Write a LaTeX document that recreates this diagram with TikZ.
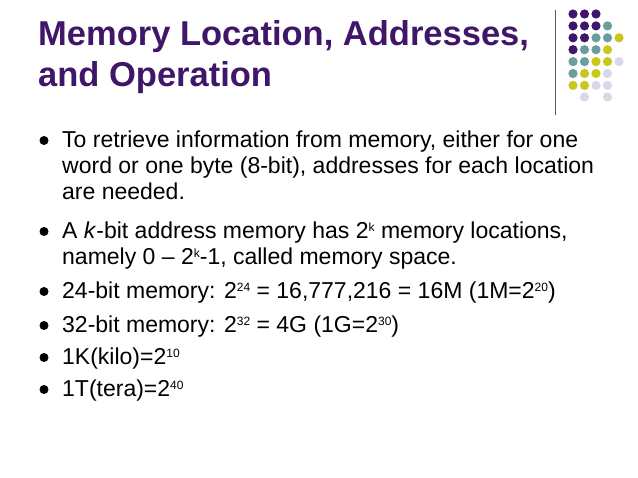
\documentclass[tikz,border=0pt]{standalone}
\usepackage{fontspec}
\setmainfont{Liberation Sans}
\definecolor{P}{HTML}{3F1669}
\definecolor{T}{HTML}{6A9E9E}
\definecolor{Y}{HTML}{C8C81A}
\definecolor{L}{HTML}{D8D8EA}
\newcommand{\sps}[1]{\raisebox{7pt}{\fontsize{12}{12}\selectfont #1}}
\begin{document}
\begin{tikzpicture}[x=1pt,y=-1pt,
  title/.style={anchor=base west,inner sep=0,font=\fontsize{34.5}{40}\selectfont\bfseries,text=P},
  body/.style={anchor=base west,inner sep=0,font=\fontsize{23}{28}\selectfont},
  bul/.style={circle,fill=black,inner sep=0,minimum size=9}]
\useasboundingbox (0,0) rectangle (638,478);
\node[title] (t1) at (38,46) {Memory Location, Addresses,};
\node[title] (t2) at (38,87) {and Operation};
\draw[gray!70!black,line width=0.8] (555,10) -- (555,115);
\foreach \r/\cs in {0/{P,P,P},1/{P,P,P,T},2/{P,P,T,T,Y},3/{P,T,T,Y},4/{T,T,Y,Y,L},5/{T,Y,Y,L},6/{Y,Y,L,L}}{
  \foreach \c [count=\i from 0] in \cs { \fill[\c] (573+11.5*\i,14+11.9*\r) circle (4.6); }
}
\fill[L] (584.5,97) circle (4.6);
\fill[L] (607.5,97) circle (4.6);
\def\bl#1#2{\node[bul] at (44,#1-7.5) {};}
\bl{148}{}\bl{239}{}\bl{299}{}\bl{333}{}\bl{365}{}\bl{397}{}
\node[body] (a1) at (62,148) {To retrieve information from memory, either for one};
\node[body] (a2) at (62,174) {word or one byte (8-bit), addresses for each location};
\node[body] (a3) at (62,200) {are needed.};
\node[body] (b1) at (62,239) {A \textit{k}-bit address memory has 2\sps{k} memory locations,};
\node[body] (b2) at (62,265) {namely 0 – 2\sps{k}-1, called memory space.};
\node[body] (c) at (62,299) {24-bit memory: 2\sps{24} = 16,777,216 = 16M (1M=2\sps{20})};
\node[body] (d) at (62,333) {32-bit memory: 2\sps{32} = 4G (1G=2\sps{30})};
\node[body] (e) at (62,365) {1K(kilo)=2\sps{10}};
\node[body] (f) at (62,397) {1T(tera)=2\sps{40}};
\end{tikzpicture}
\end{document}
